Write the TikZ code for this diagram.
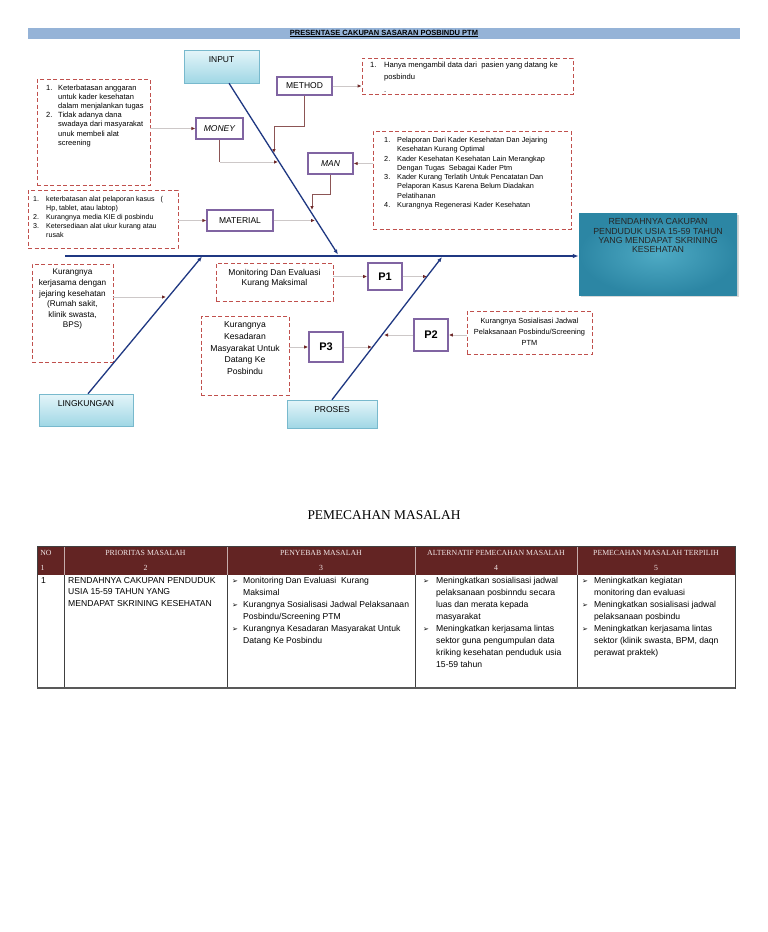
\documentclass[tikz,border=0pt]{standalone}
\usepackage{fontspec}
\setmainfont{Liberation Sans}
\newfontfamily\serifF{Liberation Serif}
\newfontfamily\symF{DejaVu Sans}
\usetikzlibrary{arrows.meta,shadows}
\definecolor{navy}{RGB}{31,56,130}
\definecolor{titlebg}{RGB}{149,179,215}
\definecolor{dred}{RGB}{192,80,77}
\definecolor{purp}{RGB}{128,100,162}
\definecolor{brn}{RGB}{140,85,85}
\definecolor{lgray}{RGB}{205,200,200}
\definecolor{tipc}{RGB}{110,40,40}
\definecolor{cyanA}{RGB}{228,245,249}
\definecolor{cyanB}{RGB}{160,215,229}
\definecolor{cyanE}{RGB}{120,185,205}
\definecolor{tealA}{RGB}{78,170,196}
\definecolor{tealB}{RGB}{44,134,164}
\definecolor{hdr}{RGB}{99,36,35}
\definecolor{hdrtxt}{RGB}{240,230,230}
\newcommand\fbi[3]{\makebox[#1][l]{#2}#3}
\newcommand\fbc[2]{\hspace*{#1}#2}
\newcommand\fbb[2]{\makebox[#1][l]{\symF\fontsize{7}{7}\selectfont ➢}#2}
\tikzset{
  dbox/.style={draw=dred, dash pattern=on 4pt off 2.5pt, line width=0.8pt, inner sep=0pt},
  pbox/.style={draw=purp, line width=1.3pt, fill=white, inner sep=0pt, font=\fontsize{8.5}{10}\selectfont},
  cbox/.style={draw=cyanE, line width=0.5pt, top color=cyanA, bottom color=cyanB, inner sep=0pt,
    font=\fontsize{8.5}{10}\selectfont, drop shadow={opacity=0.25, shadow xshift=1.2pt, shadow yshift=-1.2pt}},
  qbox/.style={draw=purp, line width=1.6pt, fill=white, inner sep=0pt, font=\bfseries\fontsize{11}{12}\selectfont},
  txt/.style={inner sep=0pt, anchor=north west, align=left},
  ctxt/.style={inner sep=0pt, anchor=north, align=center},
  fb/.style={draw=navy, line width=1.7pt, -{Latex[length=6pt,width=4.5pt]}},
  fbd/.style={draw=navy, line width=1.3pt, -{Latex[length=5pt,width=4pt]}},
  garr/.style={draw=lgray, line width=0.9pt, -{Latex[length=4pt,width=3.5pt,color=tipc]}},
  barr/.style={draw=brn, line width=1pt, -{Latex[length=4pt,width=3.5pt,color=tipc]}},
  bline/.style={draw=brn, line width=1pt},
  hdrt/.style={inner sep=0pt, text=hdrtxt, font=\serifF\fontsize{7.8}{8}\selectfont},
}
\begin{document}
\begin{tikzpicture}[x=1pt,y=-1pt]
\useasboundingbox (0,0) rectangle (768,932);
\fill[white] (0,0) rectangle (768,932);

% title bar
\node[fill=titlebg, minimum width=712pt, minimum height=11pt, inner sep=0pt,
  font=\bfseries\fontsize{7.5}{8}\selectfont] (title) at (384,33.5)
  {\underline{PRESENTASE CAKUPAN SASARAN POSBINDU PTM}};

% category boxes
\node[cbox, minimum width=75pt, text height=12pt, text depth=21pt] (input) at (221.5,66.5) {INPUT};
\node[pbox, minimum width=55pt, minimum height=18pt] (method) at (304.5,86) {METHOD};
\node[pbox, minimum width=47pt, minimum height=21pt, font=\itshape\fontsize{8.5}{10}\selectfont] (money) at (219.5,128.5) {MONEY};
\node[pbox, minimum width=45pt, minimum height=21pt, font=\itshape\fontsize{8.5}{10}\selectfont] (man) at (330.5,163.5) {MAN};
\node[pbox, minimum width=66pt, minimum height=21pt] (mat) at (240,220.5) {MATERIAL};
\node[cbox, minimum width=94pt, text height=12pt, text depth=20pt] (lk) at (86,410) {LINGKUNGAN};
\node[cbox, minimum width=90pt, text height=12pt, text depth=16pt] (pr) at (332,414) {PROSES};

% result box
\node[inner sep=0pt, minimum width=158pt, minimum height=82pt, inner color=tealA, outer color=tealB,
  drop shadow={opacity=0.3, shadow xshift=1.5pt, shadow yshift=-1.5pt}] (res) at (658,254) {};
\node[ctxt, font=\fontsize{8.8}{9.3}\selectfont, text=black!85] (rest) at (658,218.5)
  {RENDAHNYA CAKUPAN\\PENDUDUK USIA 15-59 TAHUN\\YANG MENDAPAT SKRINING\\KESEHATAN};

% note boxes (top)
\node[dbox, minimum width=113pt, minimum height=106pt] (n1) at (93.5,132) {};
\node[txt, font=\fontsize{7.5}{9.2}\selectfont] (n1t) at (46,84.5)
  {\fbi{12pt}{1.}{Keterbatasan anggaran}\\ \fbc{12pt}{untuk kader kesehatan}\\ \fbc{12pt}{dalam menjalankan tugas}\\
   \fbi{12pt}{2.}{Tidak adanya dana}\\ \fbc{12pt}{swadaya dari masyarakat}\\ \fbc{12pt}{unuk membeli alat}\\ \fbc{12pt}{screening}};

\node[dbox, minimum width=211pt, minimum height=36pt] (n2) at (467.5,76) {};
\node[txt, font=\fontsize{7.6}{12.5}\selectfont] (n2t) at (370,61.5)
  {\fbi{14pt}{1.}{Hanya mengambil data dari\ \ pasien yang datang ke}\\ \fbc{14pt}{posbindu}\\ \fbc{14pt}{.}};

\node[dbox, minimum width=198pt, minimum height=98pt] (n3) at (472,180) {};
\node[txt, font=\fontsize{7.3}{9.3}\selectfont] (n3t) at (384,137)
  {\fbi{13pt}{1.}{Pelaporan Dari Kader Kesehatan Dan Jejaring}\\ \fbc{13pt}{Kesehatan Kurang Optimal}\\
   \fbi{13pt}{2.}{Kader Kesehatan Kesehatan Lain Merangkap}\\ \fbc{13pt}{Dengan Tugas\ \ Sebagai Kader Ptm}\\
   \fbi{13pt}{3.}{Kader Kurang Terlatih Untuk Pencatatan Dan}\\ \fbc{13pt}{Pelaporan Kasus Karena Belum Diadakan}\\
   \fbc{13pt}{Pelatihanan}\\ \fbi{13pt}{4.}{Kurangnya Regenerasi Kader Kesehatan}};

\node[dbox, minimum width=150pt, minimum height=58pt] (n4) at (103,219) {};
\node[txt, font=\fontsize{7.1}{9}\selectfont] (n4t) at (33,196)
  {\fbi{13pt}{1.}{keterbatasan alat pelaporan kasus\ \ \ (}\\ \fbc{13pt}{Hp, tablet, atau labtop)}\\
   \fbi{13pt}{2.}{Kurangnya media KIE di posbindu}\\ \fbi{13pt}{3.}{Ketersediaan alat ukur kurang atau}\\ \fbc{13pt}{rusak}};

% note boxes (bottom)
\node[dbox, minimum width=81pt, minimum height=98pt] (kj) at (72.5,313) {};
\node[ctxt, font=\fontsize{8.2}{10.6}\selectfont] (kjt) at (72.5,269)
  {Kurangnya\\kerjasama dengan\\jejaring kesehatan\\(Rumah sakit,\\klinik swasta,\\BPS)};
\node[dbox, minimum width=117pt, minimum height=38pt] (mon) at (274.5,282) {};
\node[ctxt, font=\fontsize{8.5}{10.6}\selectfont] (mont) at (274.5,269)
  {Monitoring Dan Evaluasi\\Kurang Maksimal};
\node[dbox, minimum width=88pt, minimum height=79pt] (kes) at (245,355.5) {};
\node[ctxt, font=\fontsize{8.6}{11.7}\selectfont] (kest) at (245,321.5)
  {Kurangnya\\Kesadaran\\Masyarakat Untuk\\Datang Ke\\Posbindu};
\node[dbox, minimum width=125pt, minimum height=43pt] (pn) at (529.5,332.5) {};
\node[ctxt, font=\fontsize{7.4}{11}\selectfont] (pnt) at (529.5,317.5)
  {Kurangnya Sosialisasi Jadwal\\Pelaksanaan Posbindu/Screening\\PTM};

% P boxes
\node[qbox, minimum width=34pt, minimum height=27pt] (p1) at (385,276.5) {P1};
\node[qbox, minimum width=34pt, minimum height=32pt] (p2) at (431,335) {P2};
\node[qbox, minimum width=34pt, minimum height=30pt] (p3) at (326,347) {P3};

% spine and bones
\coordinate (spA) at (65,256);
\draw[fb] (spA) -- (res.west |- spA);
\coordinate (jIn) at (338,254.5);
\coordinate (jLk) at (202,256.5);
\coordinate (jPr) at (442,257);
\draw[fbd] ([xshift=7.5pt]input.south) -- (jIn);
\draw[fbd] ([xshift=2pt]lk.north) -- (jLk);
\draw[fbd] (pr.north) -- (jPr);

% sub-cause connectors (top)
\coordinate (mtA) at (274,153);
\draw[barr] (method.south) |- (274,126) -- (mtA);
\coordinate (moA) at (278,162);
\draw[bline] (money.south) -- (money.south |- moA);
\draw[garr] (money.south |- moA) -- (moA);
\coordinate (mnA) at (312,210);
\draw[barr] (man.south) -- ++(0,20) -| (mnA);
\coordinate (maA) at (315,220.5);
\draw[garr] (mat.east) -- (maA);
\draw[garr] (n1.east |- money) -- (money.west);
\draw[garr] (method.east) -- (n2.west |- method);
\draw[garr] (n3.west |- man) -- (man.east);
\draw[garr] (n4.east |- mat) -- (mat.west);

% sub-cause connectors (bottom)
\coordinate (kjA) at (166,297);
\draw[garr] (kj.east |- kjA) -- (kjA);
\draw[garr] (mon.east |- p1) -- (p1.west);
\coordinate (p1A) at (427,276.5);
\draw[garr] (p1.east) -- (p1A);
\draw[garr] (pn.west |- p2) -- (p2.east);
\coordinate (p2A) at (384,335);
\draw[garr] (p2.west) -- (p2A);
\draw[garr] (kes.east |- p3) -- (p3.west);
\coordinate (p3A) at (372,347);
\draw[garr] (p3.east) -- (p3A);

% second part
\node[inner sep=0pt, font=\serifF\fontsize{13.4}{14}\selectfont] (pm) at (384,515) {PEMECAHAN MASALAH};

% table
\fill[hdr] (37,546) rectangle (735,575);
\foreach \x in {64,227,415,577} \draw[hdrtxt!70!hdr, line width=0.6pt] (\x,546) -- (\x,575);
\draw[black!75, line width=0.9pt] (37,546) rectangle (735,688);
\foreach \x in {64,227,415,577} \draw[black!75, line width=0.9pt] (\x,575) -- (\x,688);
\draw[black!65, line width=1.6pt] (37,688) -- (735,688);

\node[hdrt] (h1) at (46,552.5) {NO};
\node[hdrt] (h2) at (145.5,552.5) {PRIORITAS MASALAH};
\node[hdrt] (h3) at (321,552.5) {PENYEBAB MASALAH};
\node[hdrt] (h4) at (496,552.5) {ALTERNATIF PEMECAHAN MASALAH};
\node[hdrt] (h5) at (656,552.5) {PEMECAHAN MASALAH TERPILIH};
\node[hdrt] (r1) at (42.5,568) {1};
\node[hdrt] (r2) at (145.5,568) {2};
\node[hdrt] (r3) at (321,568) {3};
\node[hdrt] (r4) at (496,568) {4};
\node[hdrt] (r5) at (656,568) {5};

\node[txt, font=\fontsize{8.6}{12}\selectfont] (c1) at (41,577) {1};
\node[txt, font=\fontsize{8.6}{11.5}\selectfont] (c2) at (68,577)
  {RENDAHNYA CAKUPAN PENDUDUK\\USIA 15-59 TAHUN YANG\\MENDAPAT SKRINING KESEHATAN};
\node[txt, font=\fontsize{8.6}{12}\selectfont] (c3) at (232,577)
  {\fbb{11pt}{Monitoring Dan Evaluasi\ \ Kurang}\\ \fbc{11pt}{Maksimal}\\
   \fbb{11pt}{Kurangnya Sosialisasi Jadwal Pelaksanaan}\\ \fbc{11pt}{Posbindu/Screening PTM}\\
   \fbb{11pt}{Kurangnya Kesadaran Masyarakat Untuk}\\ \fbc{11pt}{Datang Ke Posbindu}};
\node[txt, font=\fontsize{8.6}{12}\selectfont] (c4) at (423,577)
  {\fbb{13pt}{Meningkatkan sosialisasi jadwal}\\ \fbc{13pt}{pelaksanaan posbinndu secara}\\
   \fbc{13pt}{luas dan merata kepada}\\ \fbc{13pt}{masyarakat}\\
   \fbb{13pt}{Meningkatkan kerjasama lintas}\\ \fbc{13pt}{sektor guna pengumpulan data}\\
   \fbc{13pt}{kriking kesehatan penduduk usia}\\ \fbc{13pt}{15-59 tahun}};
\node[txt, font=\fontsize{8.6}{12}\selectfont] (c5) at (582,577)
  {\fbb{12pt}{Meningkatkan kegiatan}\\ \fbc{12pt}{monitoring dan evaluasi}\\
   \fbb{12pt}{Meningkatkan sosialisasi jadwal}\\ \fbc{12pt}{pelaksanaan posbindu}\\
   \fbb{12pt}{Meningkatkan kerjasama lintas}\\ \fbc{12pt}{sektor (klinik swasta, BPM, daqn}\\
   \fbc{12pt}{perawat praktek)}};
\end{tikzpicture}
\end{document}
